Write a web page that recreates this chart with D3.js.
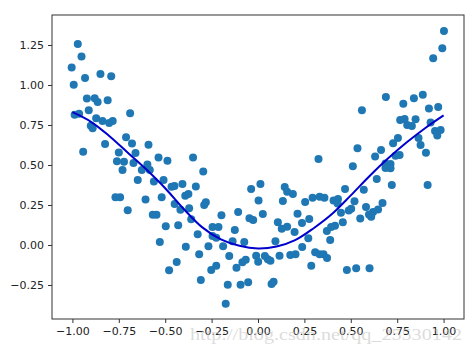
<!DOCTYPE html>
<html>
<head>
<meta charset="utf-8">
<script src="https://cdn.jsdelivr.net/npm/d3@7"></script>
<style>
html,body{margin:0;padding:0;background:#fff;}
svg{display:block;}
</style>
</head>
<body>
<script>
// scatter data
const xs = [
-0.971,-0.951,-1.004,-0.932,-0.849,-0.791,-0.993,-0.922,-0.880,-0.864,
-0.810,-0.912,-0.988,-0.964,-0.689,-0.872,-0.838,-0.802,-0.783,-0.901,
-0.891,-0.942,-0.824,-0.711,-0.679,-0.590,-0.750,-0.660,-0.536,-0.488,
-0.760,-0.722,-0.671,-0.596,-0.350,-0.730,-0.626,-0.583,-0.648,-0.561,
-0.509,-0.466,-0.450,-0.407,-0.768,-0.743,-0.606,-0.519,-0.392,-0.375,
-0.449,-0.418,-0.371,-0.702,-0.567,-0.547,-0.360,-0.497,-0.430,-0.529,
-0.389,-0.438,-0.479,-0.295,-0.335,-0.281,-0.290,-0.197,-0.107,-0.046,
-0.026,0.026,-0.037,0.013,0.003,0.144,0.157,0.188,0.134,0.254,
0.294,0.332,0.358,0.213,0.276,0.237,0.107,0.157,0.128,0.197,
-0.245,-0.213,-0.245,-0.225,-0.325,-0.125,-0.137,-0.074,-0.188,-0.267,
0.094,0.271,0.371,-0.317,-0.155,-0.010,0.037,0.053,0.067,0.001,
0.116,0.174,0.202,0.238,0.308,0.332,0.353,-0.084,-0.066,-0.225,
-0.252,-0.116,0.287,-0.308,-0.163,-0.094,-0.053,0.084,0.073,-0.174,
0.326,1.002,0.993,0.944,0.689,0.560,0.783,0.840,0.888,0.921,
0.971,0.766,0.790,0.849,0.804,0.829,0.930,0.954,0.984,0.966,
0.754,0.728,0.865,0.876,0.905,0.536,0.663,0.631,0.741,0.763,
0.511,0.687,0.714,0.687,0.714,0.640,0.721,0.914,0.469,0.570,
0.407,0.431,0.429,0.520,0.582,0.671,0.502,0.489,0.647,0.620,
0.598,0.610,0.447,0.551,0.457,0.415,0.394,0.389,0.372,0.479,
0.529,0.601
];
const ys = [
1.256,1.178,1.109,1.044,1.069,1.054,1.002,0.916,0.917,0.894,
0.904,0.842,0.814,0.821,0.823,0.792,0.775,0.763,0.775,0.745,
0.730,0.583,0.631,0.673,0.634,0.626,0.578,0.575,0.547,0.527,
0.523,0.520,0.513,0.503,0.547,0.469,0.469,0.469,0.406,0.397,
0.406,0.364,0.369,0.381,0.298,0.298,0.284,0.298,0.308,0.319,
0.256,0.221,0.229,0.217,0.189,0.189,0.161,0.117,0.123,0.019,
-0.011,-0.106,-0.158,0.459,0.366,0.267,0.250,0.186,0.206,0.167,
0.156,0.194,0.350,0.381,0.278,0.363,0.333,0.319,0.275,0.269,
0.296,0.302,0.296,0.196,0.163,0.138,0.142,0.114,0.102,0.081,
0.113,0.113,0.056,0.046,0.067,0.094,0.023,0.019,-0.008,-0.008,
0.023,0.042,0.088,-0.058,-0.069,-0.067,-0.069,-0.089,-0.098,-0.104,
-0.067,-0.063,-0.058,-0.013,-0.046,-0.058,-0.058,-0.108,-0.092,-0.129,
-0.156,-0.142,-0.129,-0.219,-0.248,-0.248,-0.233,-0.229,-0.244,-0.367,
0.538,1.338,1.229,1.167,0.925,0.842,0.883,0.917,0.939,0.853,
0.863,0.781,0.788,0.786,0.750,0.744,0.766,0.713,0.719,0.684,
0.669,0.636,0.669,0.625,0.576,0.604,0.594,0.553,0.558,0.563,
0.492,0.509,0.506,0.481,0.479,0.413,0.375,0.375,0.350,0.345,
0.278,0.288,0.259,0.273,0.238,0.263,0.226,0.216,0.222,0.206,
0.191,0.177,0.202,0.166,0.142,0.120,0.113,0.031,-0.081,-0.156,
-0.146,-0.146
];
// fitted curve
const lineX = [-1.0,-0.9,-0.8,-0.7,-0.6,-0.5,-0.4,-0.3,-0.2,-0.1,0.0,0.1,0.2,0.3,0.4,0.5,0.6,0.7,0.8,0.9,1.0];
const lineY = [0.83,0.77,0.68,0.575,0.47,0.355,0.225,0.11,0.035,-0.005,-0.022,-0.01,0.03,0.105,0.195,0.31,0.43,0.54,0.64,0.73,0.81];
// ticks
const xTicks = [-1.0,-0.75,-0.5,-0.25,0.0,0.25,0.5,0.75,1.0];
const yTicks = [-0.25,0.0,0.25,0.5,0.75,1.0,1.25];
const watermark = "http://blog.csdn.net/qq_25530142";

const W = 474, H = 351;
const svg = d3.select("body").append("svg").attr("width", W).attr("height", H);
const mLeft = 52, mRight = 464, mTop = 15, mBottom = 319;
const x = d3.scaleLinear().domain([-1.11, 1.11]).range([mLeft, mRight]);
const y = d3.scaleLinear().domain([-0.4625, 1.4375]).range([mBottom, mTop]);

const pts = xs.map((v, i) => ({x: v, y: ys[i]}));
svg.append("g").selectAll("circle").data(pts).join("circle")
  .attr("cx", d => x(d.x)).attr("cy", d => y(d.y)).attr("r", 4)
  .attr("fill", "#1f77b4");

const curve = lineX.map((v, i) => [v, lineY[i]]);
svg.append("path").datum(curve)
  .attr("d", d3.line().x(d => x(d[0])).y(d => y(d[1])).curve(d3.curveCatmullRom))
  .attr("fill", "none").attr("stroke", "#0000cc").attr("stroke-width", 2);

const fmt = d3.format(".2f");
const tickFmt = v => fmt(v).replace("-", "\u2212");

const xAxis = svg.append("g").attr("transform", `translate(0,${mBottom})`)
  .call(d3.axisBottom(x).tickValues(xTicks).tickFormat(tickFmt).tickSize(4).tickPadding(4).tickSizeOuter(0));
const yAxis = svg.append("g").attr("transform", `translate(${mLeft},0)`)
  .call(d3.axisLeft(y).tickValues(yTicks).tickFormat(tickFmt).tickSize(4).tickPadding(4).tickSizeOuter(0));
[xAxis, yAxis].forEach(g => {
  g.select(".domain").remove();
  g.selectAll("text").attr("font-family", "DejaVu Sans").attr("font-size", 11).attr("fill", "#222");
  g.selectAll("line").attr("stroke", "#333");
});

svg.append("rect").attr("x", mLeft).attr("y", mTop)
  .attr("width", mRight - mLeft).attr("height", mBottom - mTop)
  .attr("fill", "none").attr("stroke", "#333").attr("stroke-width", 1);

svg.append("text").attr("x", 190).attr("y", 340)
  .attr("font-family", "Liberation Serif").attr("font-size", 16)
  .attr("textLength", 272).attr("lengthAdjust", "spacingAndGlyphs")
  .attr("fill", "rgba(190,190,190,0.55)").text(watermark);
</script>
</body>
</html>
